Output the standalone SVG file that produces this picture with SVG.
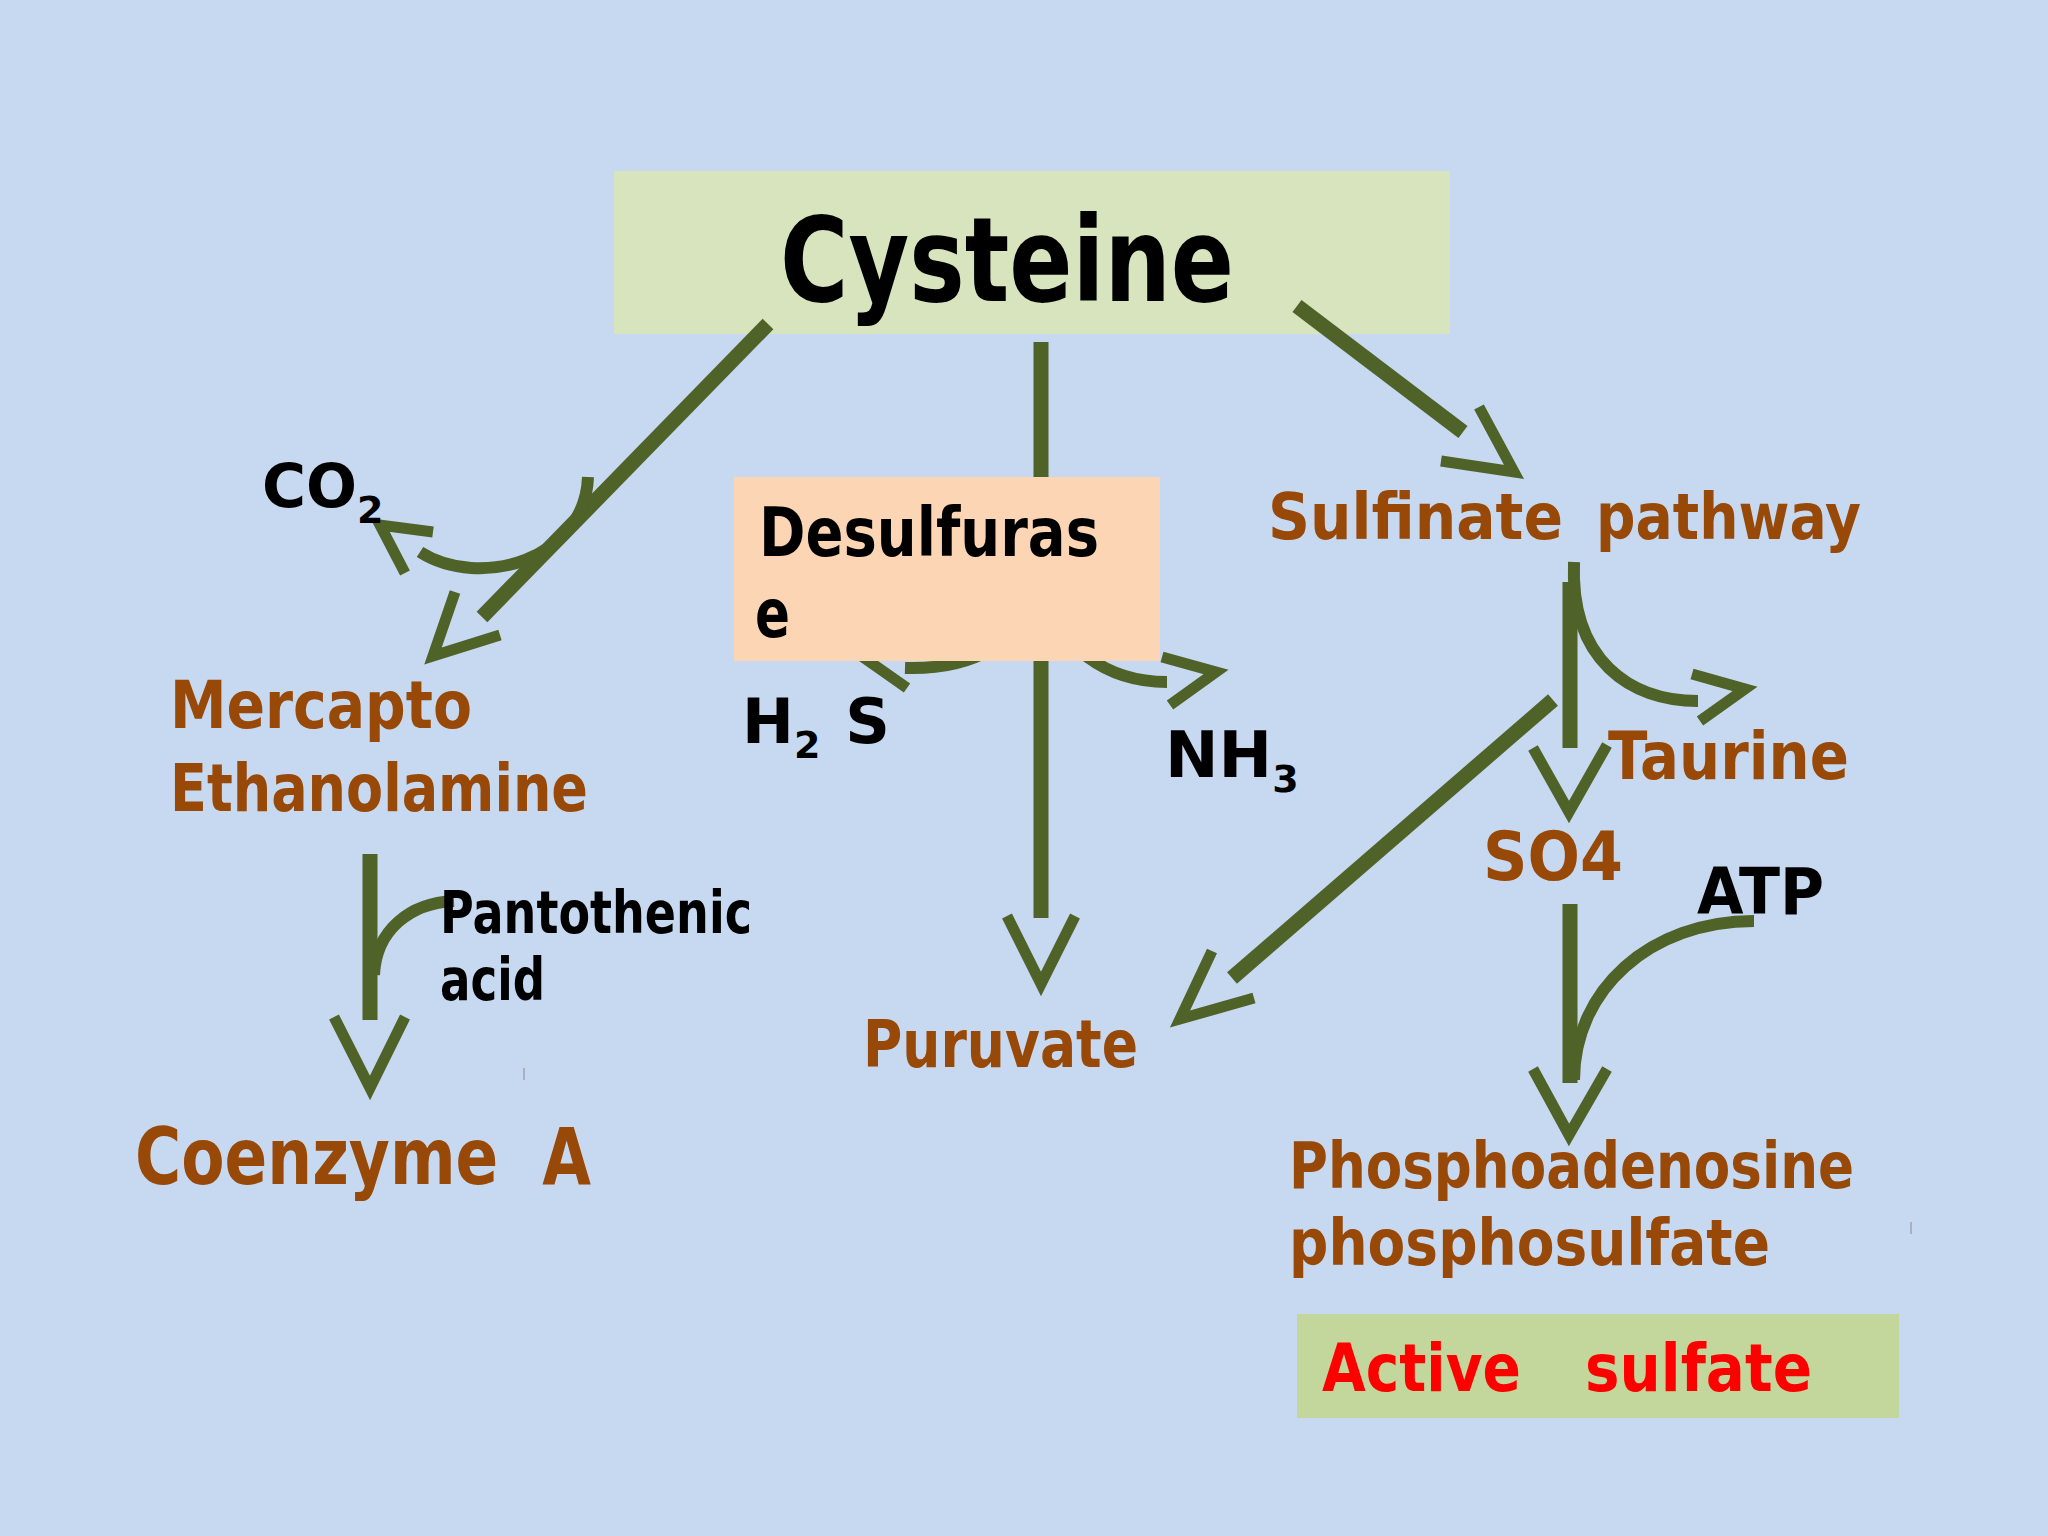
<svg xmlns="http://www.w3.org/2000/svg" width="2048" height="1536" viewBox="0 0 2048 1536">
<style>
.ln{fill:none;stroke:#4F6228;stroke-width:15;stroke-linecap:butt}
.cv{fill:none;stroke:#4F6228;stroke-width:12;stroke-linecap:butt}
.ah{fill:none;stroke:#4F6228;stroke-width:11;stroke-linecap:butt;stroke-linejoin:miter;stroke-miterlimit:10}
text{font-family:"DejaVu Sans","Liberation Sans",sans-serif;font-weight:bold}
.br{fill:#984807}
.bk{fill:#000000}
.rd{fill:#FF0000}
.pre{white-space:pre}
</style>
<rect x="0" y="0" width="2048" height="1536" fill="#C6D9F0"/>
<g id="node-cysteine">
  <rect x="614" y="171" width="836" height="163" fill="#D7E4BD"/>
  <text class="bk" x="780" y="301" font-size="118" textLength="454" lengthAdjust="spacingAndGlyphs">Cysteine</text>
</g>
<g id="connectors">
  <!-- Cysteine to Mercapto -->
  <line class="ln" x1="768" y1="324" x2="482" y2="617"/>
  <polyline class="ah" points="455,592 433,656 500,635"/>
  <!-- CO2 branch -->
  <path class="cv" d="M588,477 C585,560 480,590 420,552"/>
  <polyline class="ah" points="433,532 380,525 405,573"/>
  <!-- Cysteine to Puruvate -->
  <line class="ln" x1="1041" y1="342" x2="1041" y2="918"/>
  <polyline class="ah" points="1007,916 1041,984 1075,916"/>
  <!-- H2S branch -->
  <path class="cv" d="M1041,580 C1025,645 970,670 905,668"/>
  <polyline class="ah" points="914,640 860,655 907,688"/>
  <!-- NH3 branch -->
  <path class="cv" d="M1041,580 C1055,650 1110,682 1167,682"/>
  <polyline class="ah" points="1162,657 1216,672 1170,705"/>
  <!-- Cysteine to Sulfinate -->
  <line class="ln" x1="1297" y1="306" x2="1463" y2="432"/>
  <polyline class="ah" points="1479,407 1514,472 1441,461"/>
  <!-- Sulfinate to SO4 -->
  <line class="ln" x1="1570" y1="582" x2="1570" y2="748"/>
  <polyline class="ah" points="1533,748 1569,812 1607,745"/>
  <!-- Taurine branch -->
  <path class="cv" d="M1574,562 C1570,660 1630,701 1698,701"/>
  <polyline class="ah" points="1692,674 1745,689 1700,721"/>
  <!-- Sulfinate to Puruvate -->
  <line class="ln" x1="1553" y1="700" x2="1232" y2="978"/>
  <polyline class="ah" points="1212,951 1180,1019 1254,998"/>
  <!-- SO4 to PAPS -->
  <line class="ln" x1="1570" y1="904" x2="1570" y2="1083"/>
  <polyline class="ah" points="1533,1069 1569,1135 1607,1069"/>
  <!-- ATP branch -->
  <path class="cv" d="M1754,921 C1650,921 1574,990 1574,1080"/>
  <!-- Mercapto to Coenzyme A -->
  <line class="ln" x1="370" y1="854" x2="370" y2="1020"/>
  <polyline class="ah" points="334,1017 370,1088 405,1017"/>
  <!-- Pantothenic branch -->
  <path class="cv" d="M454,901 C410,903 376,930 374,975"/>
</g>
<g id="node-desulfurase">
  <rect x="734" y="477" width="426" height="184" fill="#FCD5B5"/>
  <text class="bk" x="759" y="556" font-size="68" textLength="340" lengthAdjust="spacingAndGlyphs">Desulfuras</text>
  <text class="bk" x="755" y="637" font-size="68" textLength="35" lengthAdjust="spacingAndGlyphs">e</text>
</g>
<g id="node-co2">
  <text class="bk" x="262" y="507" font-size="60">CO<tspan dy="16" font-size="38">2</tspan></text>
</g>
<g id="node-mercapto">
  <text class="br" x="170" y="728" font-size="66" textLength="302" lengthAdjust="spacingAndGlyphs">Mercapto</text>
  <text class="br" x="170" y="811" font-size="66" textLength="418" lengthAdjust="spacingAndGlyphs">Ethanolamine</text>
</g>
<g id="node-pantothenic">
  <text class="bk" x="440" y="933" font-size="58" textLength="312" lengthAdjust="spacingAndGlyphs">Pantothenic</text>
  <text class="bk" x="440" y="1000" font-size="58" textLength="105" lengthAdjust="spacingAndGlyphs">acid</text>
</g>
<g id="node-coenzyme">
  <text class="br pre" xml:space="preserve" x="135" y="1184" font-size="78" textLength="456" lengthAdjust="spacingAndGlyphs">Coenzyme  A</text>
</g>
<g id="node-h2s">
  <text class="bk" x="742" y="743" font-size="62">H<tspan dy="15" font-size="38">2</tspan><tspan dx="25" dy="-15">S</tspan></text>
</g>
<g id="node-nh3">
  <text class="bk" x="1165" y="777" font-size="64">NH<tspan dy="15" font-size="38">3</tspan></text>
</g>
<g id="node-puruvate">
  <text class="br" x="863" y="1067" font-size="66" textLength="275" lengthAdjust="spacingAndGlyphs">Puruvate</text>
</g>
<g id="node-sulfinate">
  <text class="br" x="1268" y="539" font-size="64" textLength="295" lengthAdjust="spacingAndGlyphs">Sulfinate</text>
  <text class="br" x="1596" y="539" font-size="64" textLength="265" lengthAdjust="spacingAndGlyphs">pathway</text>
</g>
<g id="node-taurine">
  <text class="br" x="1608" y="779" font-size="66" textLength="241" lengthAdjust="spacingAndGlyphs">Taurine</text>
</g>
<g id="node-so4">
  <text class="br" x="1483" y="880" font-size="68" textLength="140" lengthAdjust="spacingAndGlyphs">SO4</text>
</g>
<g id="node-atp">
  <text class="bk" x="1697" y="914" font-size="64" textLength="127" lengthAdjust="spacingAndGlyphs">ATP</text>
</g>
<g id="node-paps">
  <text class="br" x="1289" y="1188" font-size="64" textLength="565" lengthAdjust="spacingAndGlyphs">Phosphoadenosine</text>
  <text class="br" x="1289" y="1265" font-size="64" textLength="481" lengthAdjust="spacingAndGlyphs">phosphosulfate</text>
</g>
<g id="node-active-sulfate">
  <rect x="1297" y="1314" width="602" height="104" fill="#C3D69B"/>
  <text class="rd" x="1322" y="1391" font-size="66" textLength="199" lengthAdjust="spacingAndGlyphs">Active</text>
  <text class="rd" x="1585" y="1391" font-size="66" textLength="227" lengthAdjust="spacingAndGlyphs">sulfate</text>
</g>
<g id="marks">
  <line x1="524" y1="1068" x2="524" y2="1080" stroke="#9AA5B0" stroke-width="1.5"/>
  <line x1="1911" y1="1222" x2="1911" y2="1234" stroke="#9AA5B0" stroke-width="1.5"/>
</g>
</svg>
